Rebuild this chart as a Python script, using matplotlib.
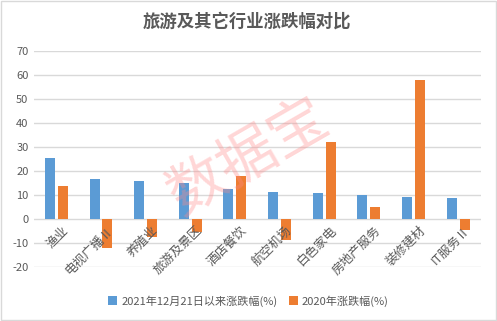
import matplotlib
matplotlib.use("Agg")
import matplotlib.pyplot as plt
import numpy as np
from matplotlib.patches import Rectangle

plt.rcParams["font.family"] = ["Noto Sans CJK SC", "DejaVu Sans"]

categories = ["渔业", "电视广播Ⅱ", "养殖业", "旅游及景区", "酒店餐饮",
              "航空机场", "白色家电", "房地产服务", "装修建材", "IT服务Ⅱ"]
since_dec21 = [25.5, 16.8, 16.0, 15.1, 12.6, 11.4, 11.0, 10.1, 9.3, 8.9]
year_2020 = [13.9, -12.0, -7.4, -5.2, 18.0, -8.6, 32.2, 5.1, 58.0, -4.5]
series_labels = ["2021年12月21日以来涨跌幅(%)", "2020年涨跌幅(%)"]
y_ticks = [-20, -10, 0, 10, 20, 30, 40, 50, 60, 70]

BLUE = "#5b9bd5"
ORANGE = "#ed7d31"
TEXT = "#595959"
GRID = "#d9d9d9"

fig = plt.figure(figsize=(4.97, 3.21), dpi=100)
ax = fig.add_axes([0.0684, 0.167, 0.8986, 0.673])

x = np.arange(len(categories))
w = 0.224
ax.bar(x - 0.145, since_dec21, w, color=BLUE, label=series_labels[0], zorder=3)
ax.bar(x + 0.145, year_2020, w, color=ORANGE, label=series_labels[1], zorder=3)

ax.set_xlim(-0.5, len(categories) - 0.5)
ax.set_ylim(-20, 70)
ax.set_yticks(y_ticks)
ax.set_yticklabels([str(v) for v in y_ticks], fontsize=8, color=TEXT)
ax.tick_params(axis="y", length=0, pad=4)
ax.set_xticks([])
ax.grid(axis="y", color=GRID, linewidth=1, zorder=0)
for s in ax.spines.values():
    s.set_visible(False)

for i, name in enumerate(categories):
    ax.text(i + 0.12, -1.8, name, rotation=45, ha="right", va="top",
            rotation_mode="anchor", fontsize=9, color=TEXT, zorder=4)

fig.text(0.497, 0.932, "旅游及其它行业涨跌幅对比", ha="center", va="center",
         fontsize=12.5, fontweight="bold", color=TEXT)

# watermark
fig.text(0.50, 0.51, "数据宝", ha="center", va="center", rotation=30,
         fontsize=42, fontweight="light", color="#ff8a8a", alpha=0.35, zorder=10)

leg = fig.legend(loc="center", bbox_to_anchor=(0.5, 0.063), ncol=2, frameon=False,
                 fontsize=8, handlelength=0.8, handleheight=0.8, handletextpad=0.4,
                 columnspacing=1.0)
for t in leg.get_texts():
    t.set_color(TEXT)

fig.patches.append(Rectangle((0.002, 0.003), 0.995, 0.994, transform=fig.transFigure,
                             fill=False, edgecolor="#d9d9d9", linewidth=1))

fig.savefig("out.png", dpi=100)
